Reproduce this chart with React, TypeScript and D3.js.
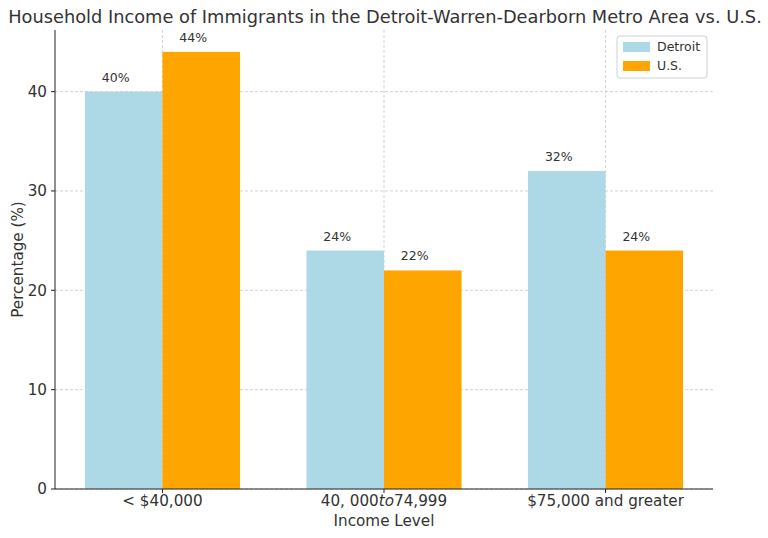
import React from "react";
import * as d3 from "d3";

const categories = ["< $40,000", "40,000to74,999", "$75,000 and greater"];
const seriesNames = ["Detroit", "U.S."];
const detroitValues = [40, 24, 32];
const usValues = [44, 22, 24];
const colors = ["#ADD8E6", "#FFA500"];
const yTicks = [0, 10, 20, 30, 40];

const W = 768, H = 538;
const m = { left: 55, right: 713, top: 30, bottom: 489 };
const font = "DejaVu Sans, sans-serif";
const textColor = "#333333";

export default function App() {
  const x = d3.scaleLinear().domain([-0.485, 2.485]).range([m.left, m.right]);
  const y = d3.scaleLinear().domain([0, 46.2]).range([m.bottom, m.top]);
  const barW = 0.35;
  const series = [detroitValues, usValues];

  return (
    <svg width={W} height={H} style={{ position: "absolute", left: 0, top: 0, background: "#fff" }} fontFamily={font}>
      {yTicks.map((t) => (
        <line key={"gy" + t} x1={m.left} x2={m.right} y1={y(t)} y2={y(t)} stroke="#c8c8c8" strokeWidth={0.8} strokeDasharray="3,2" />
      ))}
      {categories.map((c, i) => (
        <line key={"gx" + i} x1={x(i)} x2={x(i)} y1={m.top} y2={m.bottom} stroke="#c8c8c8" strokeWidth={0.8} strokeDasharray="3,2" />
      ))}
      {series.map((vals, s) =>
        vals.map((v, i) => {
          const x0 = x(i + (s === 0 ? -barW : 0));
          const x1 = x(i + (s === 0 ? 0 : barW));
          return (
            <g key={`b${s}-${i}`}>
              <rect x={x0} y={y(v)} width={x1 - x0} height={y(0) - y(v)} fill={colors[s]} />
              <text x={(x0 + x1) / 2 - 8} y={y(v) - 10} textAnchor="middle" fontSize={12.5} fill={textColor}>
                {v}%
              </text>
            </g>
          );
        })
      )}
      <line x1={m.left} x2={m.left} y1={m.top} y2={m.bottom} stroke="#222" strokeWidth={1} />
      <line x1={m.left} x2={m.right} y1={m.bottom} y2={m.bottom} stroke="#222" strokeWidth={1} />
      {yTicks.map((t) => (
        <g key={"yt" + t}>
          <line x1={m.left - 4} x2={m.left} y1={y(t)} y2={y(t)} stroke="#222" />
          <text x={m.left - 8} y={y(t)} dy="0.35em" textAnchor="end" fontSize={15.2} fill={textColor}>
            {t}
          </text>
        </g>
      ))}
      {categories.map((c, i) => (
        <g key={"xt" + i}>
          <line x1={x(i)} x2={x(i)} y1={m.bottom} y2={m.bottom + 4} stroke="#222" />
          <text x={x(i)} y={m.bottom + 17} textAnchor="middle" fontSize={15.2} fill={textColor}>
            {i === 1 ? (
              <>
                <tspan>40, 000</tspan>
                <tspan fontStyle="italic">to</tspan>
                <tspan>74,999</tspan>
              </>
            ) : (
              c
            )}
          </text>
        </g>
      ))}
      <text x={(m.left + m.right) / 2} y={526} textAnchor="middle" fontSize={15.2} fill={textColor}>
        Income Level
      </text>
      <text transform={`translate(23,${(m.top + m.bottom) / 2}) rotate(-90)`} textAnchor="middle" fontSize={15.2} fill={textColor}>
        Percentage (%)
      </text>
      <text x={385} y={23} textAnchor="middle" fontSize={17.8} fill={textColor}>
        Household Income of Immigrants in the Detroit-Warren-Dearborn Metro Area vs. U.S.
      </text>
      <rect x={617} y={36} width={90} height={42} rx={3} fill="#fff" fillOpacity={0.8} stroke="#d0d0d0" />
      {seriesNames.map((n, s) => (
        <g key={"lg" + s}>
          <rect x={623} y={42 + s * 19} width={27} height={10} fill={colors[s]} />
          <text x={657} y={47 + s * 19} dy="0.35em" fontSize={12.5} fill={textColor}>
            {n}
          </text>
        </g>
      ))}
    </svg>
  );
}
